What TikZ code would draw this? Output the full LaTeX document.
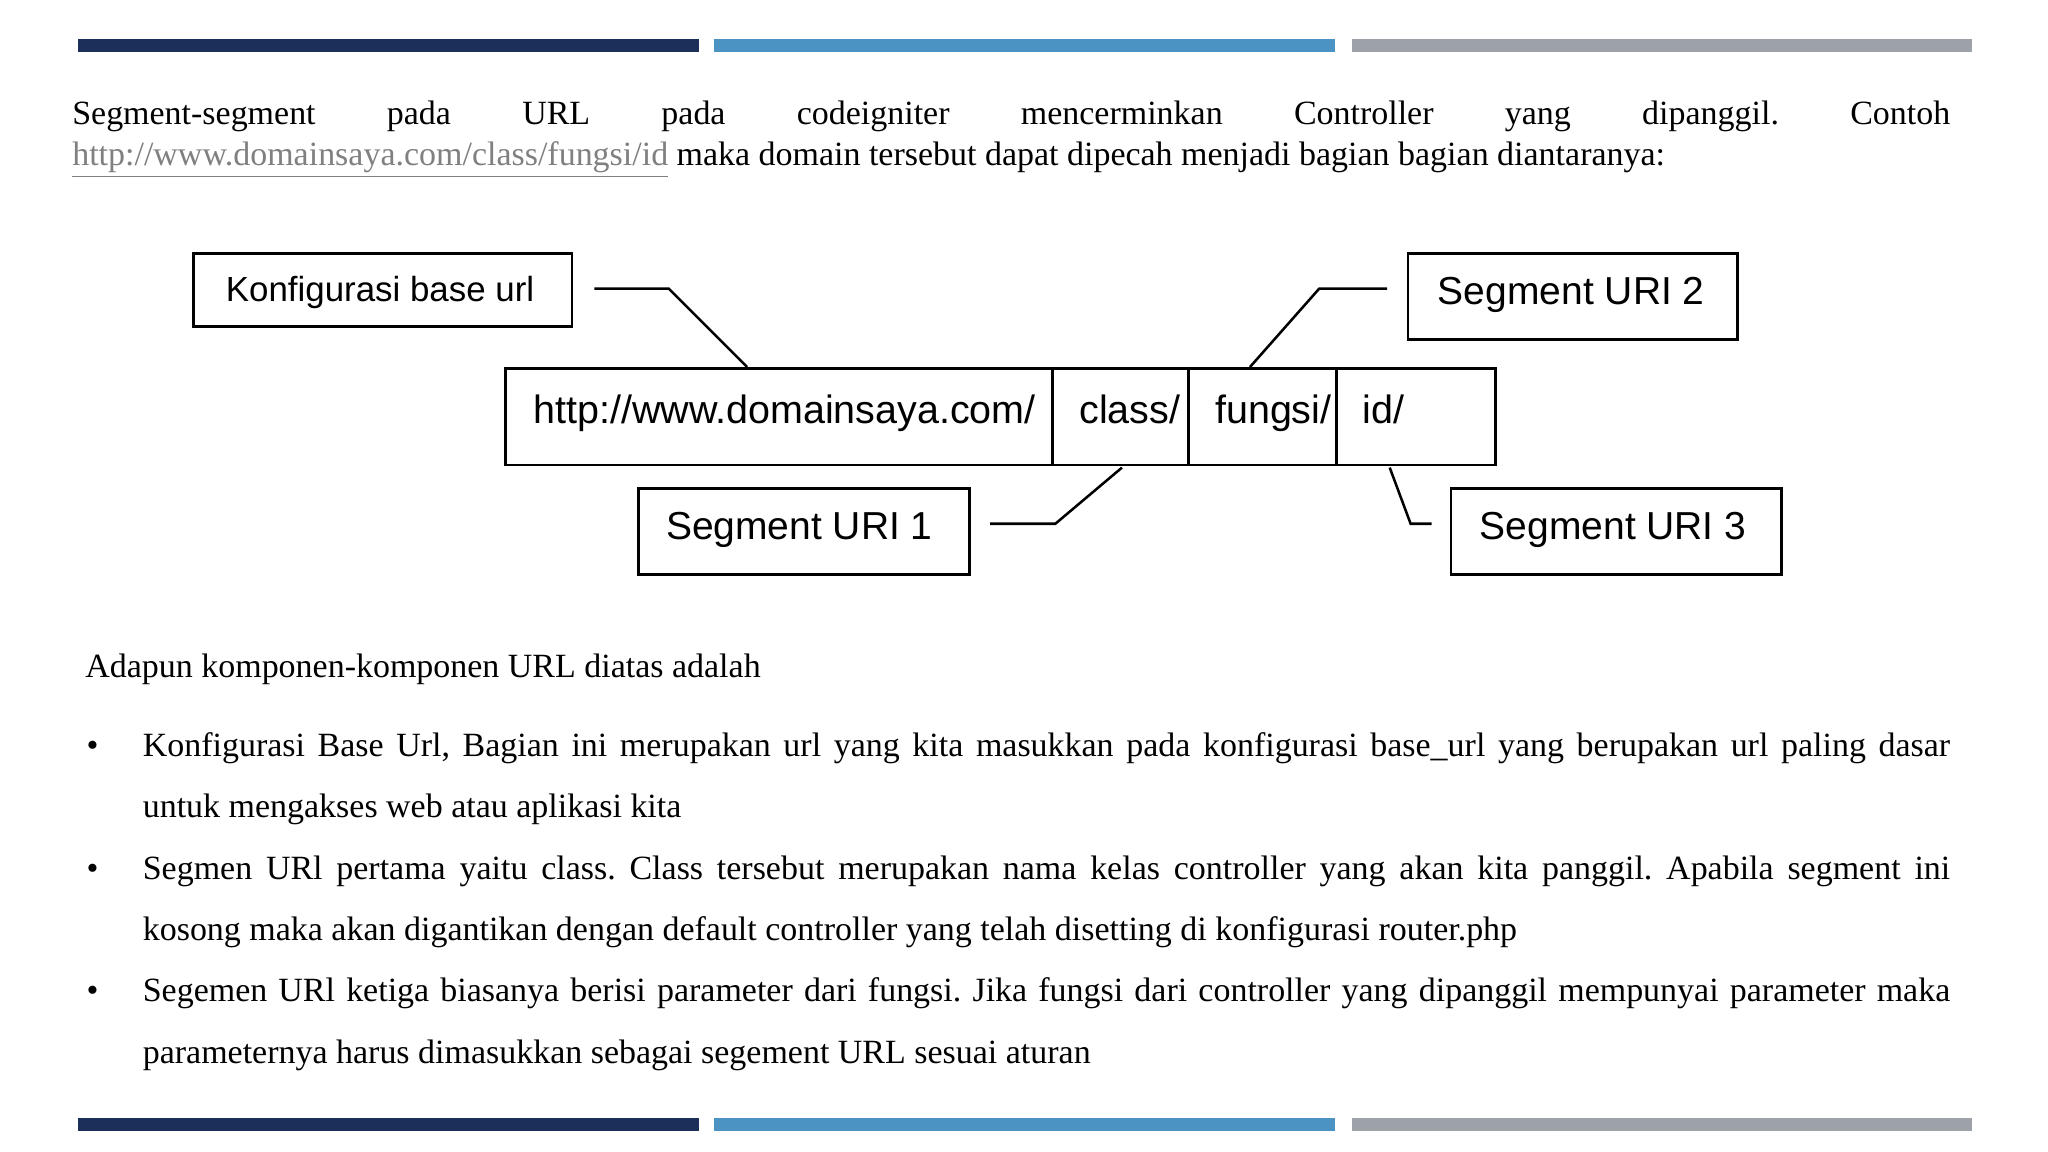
\documentclass[tikz,border=0pt]{standalone}
\usepackage{fontspec}
\setmainfont{Liberation Serif}
\newfontfamily\diag{Liberation Sans}
\definecolor{navy}{HTML}{1B2F5A}
\definecolor{midblue}{HTML}{4A93C3}
\definecolor{greybar}{HTML}{9DA2A9}
\newcommand{\spreadline}[2]{\makebox[#1][s]{#2}}
\frenchspacing
\begin{document}
\begin{tikzpicture}[x=0.02cm,y=-0.02cm,
  bar/.style={line width=0.2cm},
  box/.style={draw,line width=1.2pt},
  conn/.style={draw,line width=1.1pt},
  body/.style={anchor=base west,inner sep=0pt,font=\fontsize{14.8}{17}\selectfont},
  lab/.style={font=\diag\fontsize{17}{20}\selectfont}]
\useasboundingbox (0,0) rectangle (1568,882);
% bars
\foreach \yy in {35,861}{
  \draw[bar,navy] (60,\yy) -- (535,\yy);
  \draw[bar,midblue] (547,\yy) -- (1022,\yy);
  \draw[bar,greybar] (1035,\yy) -- (1510,\yy);}
% intro
\node[body] (p1) at (55,95) {\spreadline{28.76cm}{Segment-segment pada URL pada codeigniter mencerminkan Controller yang dipanggil. Contoh}};
\node[body] (p2) at (55,127) {{\color{gray}\underline{http://www.domainsaya.com/class/fungsi/id}} maka domain tersebut dapat dipecah menjadi bagian bagian diantaranya:};
% diagram boxes
\draw[box] (148,194) rectangle (438,250);
\node[lab,font=\diag\fontsize{15.2}{18}\selectfont] (kb) at (291,224) {Konfigurasi base url};
\draw[box] (1078,194) rectangle (1330,260);
\node[lab] (s2) at (1203,226) {Segment URI 2};
\draw[box] (489,374) rectangle (742,440);
\node[lab] (s1) at (612,406) {Segment URI 1};
\draw[box] (1111,374) rectangle (1364,440);
\node[lab] (s3) at (1235,406) {Segment URI 3};
\draw[box] (387,282) rectangle (1145,356);
\draw[box] (806,282) -- (806,356) (910,282) -- (910,356) (1023,282) -- (1023,356);
\begin{scope}[every node/.style={font=\diag\fontsize{17.2}{20}\selectfont,anchor=base west,inner sep=0pt}]
\node (u0) at (408,324) {http://www.domainsaya.com/};
\node (u1) at (826,324) {class/};
\node (u2) at (930,324) {fungsi/};
\node (u3) at (1043,324) {id/};
\end{scope}
% connectors
\coordinate (a1) at (455,221); \coordinate (a2) at (512,221); \coordinate (a3) at (572,281);
\draw[conn] (a1) -- (a2) -- (a3);
\coordinate (b1) at (1062,221); \coordinate (b2) at (1010,221); \coordinate (b3) at (957,281);
\draw[conn] (b1) -- (b2) -- (b3);
\coordinate (c1) at (758,401); \coordinate (c2) at (808,401); \coordinate (c3) at (859,358);
\draw[conn] (c1) -- (c2) -- (c3);
\coordinate (d1) at (1064,358); \coordinate (d2) at (1080,401); \coordinate (d3) at (1096,401);
\draw[conn] (d1) -- (d2) -- (d3);
% body
\node[body] (ad) at (65,519) {Adapun komponen-komponen URL diatas adalah};
\foreach \yy in {579,673,767}{\node[body] at (66,\yy) {\textbullet};}
\node[body] (l1) at (109,579) {\spreadline{27.68cm}{Konfigurasi Base Url, Bagian ini merupakan url yang kita masukkan pada konfigurasi base\_url yang berupakan url paling dasar}};
\node[body] (l2) at (109,626) {untuk mengakses web atau aplikasi kita};
\node[body] (l3) at (109,673) {\spreadline{27.68cm}{Segmen URl pertama yaitu class. Class tersebut merupakan nama kelas controller yang akan kita panggil. Apabila segment ini}};
\node[body] (l4) at (109,720) {kosong maka akan digantikan dengan default controller yang telah disetting di konfigurasi router.php};
\node[body] (l5) at (109,767) {\spreadline{27.68cm}{Segemen URl ketiga biasanya berisi parameter dari fungsi. Jika fungsi dari controller yang dipanggil mempunyai parameter maka}};
\node[body] (l6) at (109,814) {parameternya harus dimasukkan sebagai segement URL sesuai aturan};
\end{tikzpicture}
\end{document}
